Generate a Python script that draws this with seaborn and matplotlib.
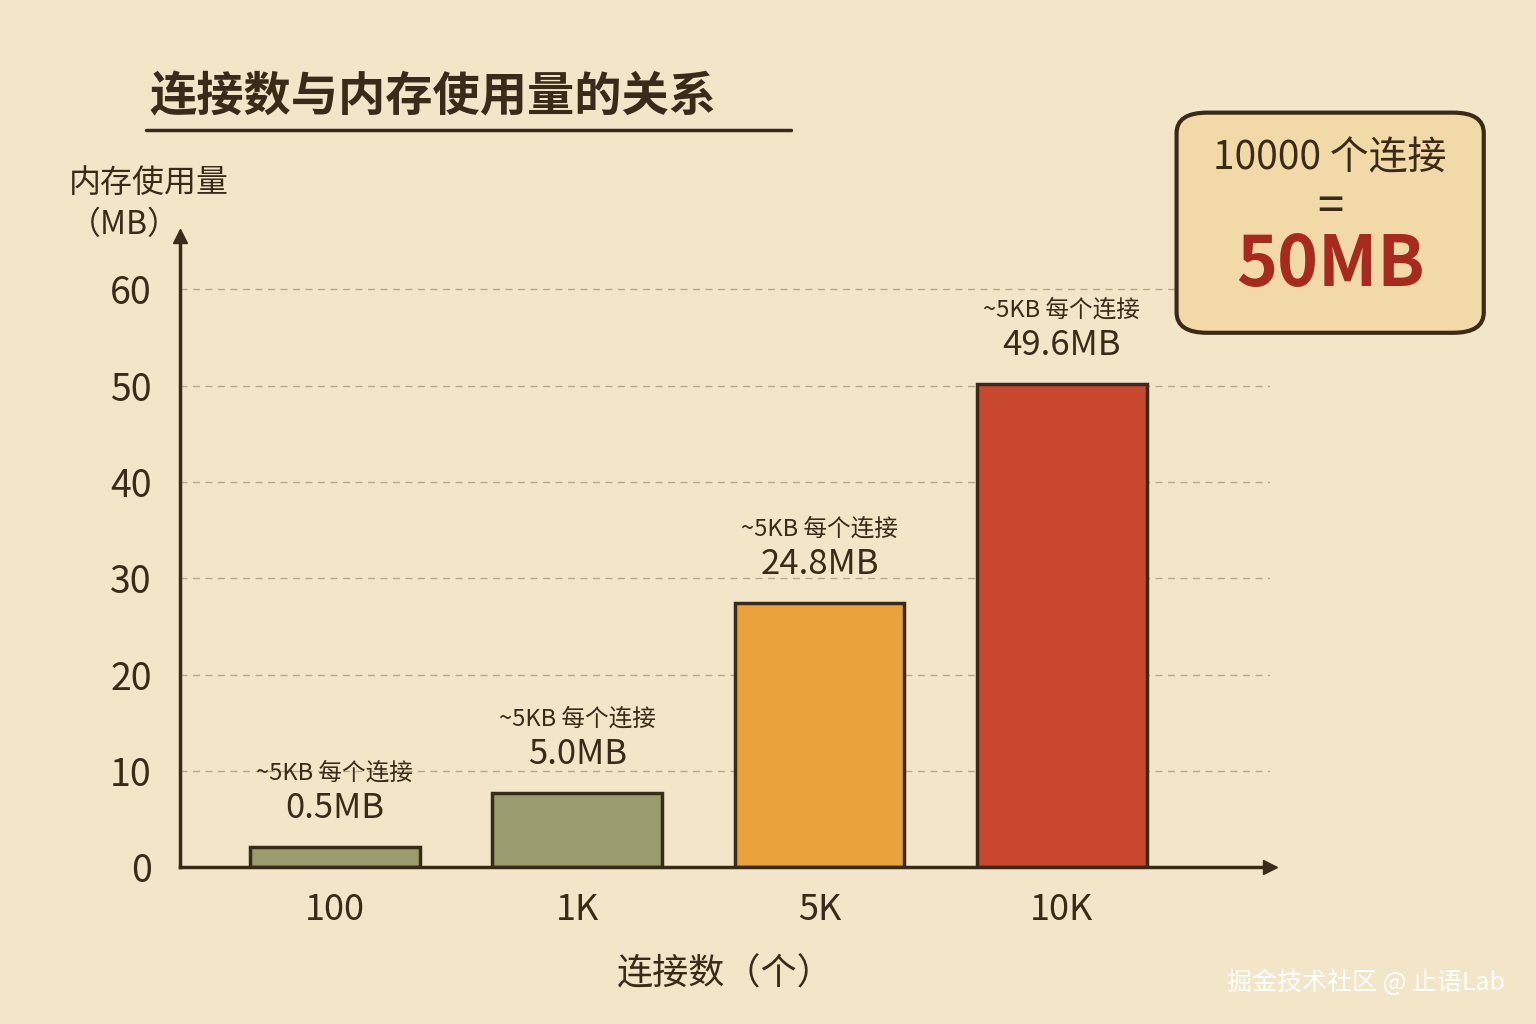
import matplotlib
matplotlib.use("Agg")
import matplotlib.pyplot as plt
import seaborn as sns
import pandas as pd
from matplotlib.patches import FancyBboxPatch

sns.set_theme(style="white")
plt.rcParams['font.family'] = ['Noto Sans CJK SC', 'DejaVu Sans']

categories = ["100", "1K", "5K", "10K"]
heights = [2.1, 7.7, 27.4, 50.2]
value_labels = ["0.5MB", "5.0MB", "24.8MB", "49.6MB"]
per_conn = "~5KB 每个连接"
colors = ["#9a9c6e", "#9a9c6e", "#e9a23b", "#c9462f"]
yticks = [0, 10, 20, 30, 40, 50, 60]

bg = "#f3e6c8"
ink = "#3a2a1a"
fig = plt.figure(figsize=(15.36, 10.24), dpi=100, facecolor=bg)
ax = fig.add_axes([0.117, 0.153, 0.71, 0.617], facecolor=bg)
df = pd.DataFrame({"cat": categories, "h": heights})
sns.barplot(data=df, x="cat", y="h", hue="cat", palette=colors, legend=False,
            ax=ax, width=0.7, edgecolor=ink, linewidth=2.5, saturation=1)
ax.set_xlim(-0.64, 3.86)
ax.set_ylim(0, 65.6)
for y in yticks[1:]:
    ax.axhline(y, color="#b8a888", ls=(0, (5, 4)), lw=1, zorder=0)
ax.set_yticks(yticks)
ax.set_yticklabels([str(t) for t in yticks], fontsize=27, color=ink)
ax.tick_params(axis='y', length=12, width=2, color=ink, pad=8)
ax.tick_params(axis='x', length=0, labelsize=26, labelcolor=ink, pad=18)
ax.set_xlabel("连接数（个）", fontsize=26, color=ink, labelpad=20)
ax.set_ylabel("")
for s in ["top", "right"]:
    ax.spines[s].set_visible(False)
for s in ["left", "bottom"]:
    ax.spines[s].set_color(ink)
    ax.spines[s].set_linewidth(2.5)
ax.plot(1, 0, ">", transform=ax.transAxes, color=ink, ms=10, clip_on=False)
ax.plot(0, 1, "^", transform=ax.transAxes, color=ink, ms=10, clip_on=False)
for i, (h, lab) in enumerate(zip(heights, value_labels)):
    ax.text(i, h + 2.2, lab, ha="center", va="bottom", fontsize=25, color=ink)
    ax.text(i, h + 6.5, per_conn, ha="center", va="bottom", fontsize=17, color=ink)

fig.text(0.045, 0.765, "内存使用量\n（MB）", fontsize=23, color=ink, va="bottom", linespacing=1.4)
fig.text(0.097, 0.905, "连接数与内存使用量的关系", fontsize=34, color=ink, va="center", weight="bold")
fig.add_artist(plt.Line2D([0.095, 0.515], [0.873, 0.873], color=ink, lw=2.5))

box = FancyBboxPatch((0.766, 0.675), 0.2, 0.215, boxstyle="round,pad=0,rounding_size=0.02",
                     transform=fig.transFigure, facecolor="#f2d9a8", edgecolor=ink, lw=3)
fig.add_artist(box)
fig.text(0.866, 0.845, "10000 个连接", fontsize=28, color=ink, ha="center", va="center")
fig.text(0.866, 0.797, "=", fontsize=34, color=ink, ha="center", va="center")
fig.text(0.866, 0.74, "50MB", fontsize=50, color="#a8291e", ha="center", va="center", weight="bold")
fig.text(0.98, 0.04, "掘金技术社区 @ 止语Lab", fontsize=18, color="white", ha="right", va="center")

fig.savefig("out.png", dpi=100, facecolor=bg)
